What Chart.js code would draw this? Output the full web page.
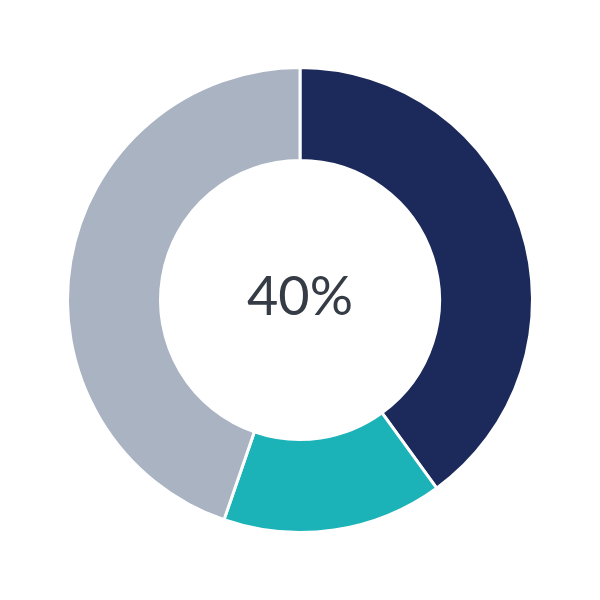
<!DOCTYPE html>
<html>
<head>
<meta charset="utf-8">
<script src="https://cdn.jsdelivr.net/npm/chart.js@4"></script>
<style>
  html, body { margin: 0; padding: 0; background: #fff; }
  #wrap { width: 600px; height: 600px; }
</style>
</head>
<body>
<div id="wrap"><canvas id="donut"></canvas></div>
<script>
const labels = ["Segment A", "Segment B", "Segment C"];
const values = [40, 15.3, 44.7];
const colors = ["#1B2A5A", "#1BB3B8", "#A9B3C2"];
const centerText = "40%";

// draws the big percentage in the hole
const centerLabel = {
  id: 'centerLabel',
  afterDraw(chart) {
    const arc = chart.getDatasetMeta(0).data[0];
    if (!arc) return;
    const c = chart.ctx;
    c.save();
    c.font = '400 54px Lato, "Open Sans", sans-serif';
    c.fillStyle = '#353C45';
    c.textAlign = 'center';
    c.textBaseline = 'middle';
    c.fillText(centerText, arc.x, arc.y - 2);
    c.restore();
  }
};

const ctx = document.getElementById("donut");
new Chart(ctx, {
  type: 'doughnut',
  data: {
    labels: labels,
    datasets: [{
      data: values,
      backgroundColor: colors,
      borderColor: '#fff',
      borderWidth: 3,
    }]
  },
  options: {
    responsive: true,
    maintainAspectRatio: false,
    animation: false,
    cutout: '60%',
    layout: { padding: 66 },
    plugins: {
      legend: { display: false },
      tooltip: { enabled: false }
    }
  },
  plugins: [centerLabel]
});
</script>
</body>
</html>
